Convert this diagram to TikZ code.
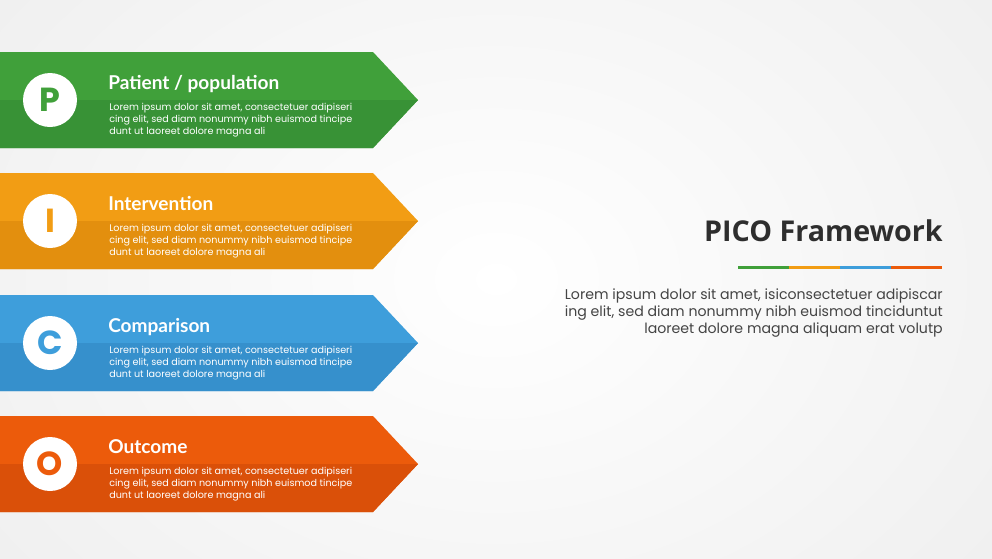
\documentclass[tikz,border=0pt]{standalone}
\usepackage{fontspec}
\setmainfont{Poppins}
\newfontfamily\headfont{Lato}
\newfontfamily\titlefont{Open Sans}
\newfontfamily\popfont{Poppins}
\usetikzlibrary{shadings}
\definecolor{gU}{HTML}{40A03A}
\definecolor{gL}{HTML}{389236}
\definecolor{oU}{HTML}{F29D14}
\definecolor{oL}{HTML}{E38F0E}
\definecolor{bU}{HTML}{3E9EDB}
\definecolor{bL}{HTML}{3690CC}
\definecolor{rU}{HTML}{EC5B0B}
\definecolor{rL}{HTML}{DA5009}
\definecolor{bgO}{HTML}{EEEEEE}
\definecolor{txt}{HTML}{2E2E2E}
\definecolor{body}{HTML}{444444}
\tikzset{
  lettercirc/.style={circle,fill=white,minimum size=40.5pt,inner sep=0pt,font=\popfont\bfseries\fontsize{25}{25}\selectfont},
  headtxt/.style={anchor=base west,text=white,inner sep=0pt,font=\headfont\bfseries\fontsize{14.3}{16}\selectfont},
  bodytxt/.style={anchor=north west,text=white,inner sep=0pt,align=left,font=\popfont\fontsize{7.2}{9}\selectfont},
}
\begin{document}
\begin{tikzpicture}[x=0.75pt,y=-0.75pt]
\useasboundingbox (0,0) rectangle (992,558);
\shade[inner color=white,outer color=bgO] (-200,-250) rectangle (1192,808);
% bands
\foreach \t/\cu/\cl in {52/gU/gL,173/oU/oL,295/bU/bL,416/rU/rL}{
  \pgfmathsetmacro{\m}{\t+48}
  \pgfmathsetmacro{\b}{\t+96}
  \fill[\cu] (0,\t) -- (373,\t) -- (418,\m) -- (373,\b) -- (0,\b) -- cycle;
  \fill[\cl] (0,\m) -- (418,\m) -- (373,\b) -- (0,\b) -- cycle;
}
\node[lettercirc,text=gU] (cP) at (50,100) {P};
\node[lettercirc,text=oU] (cI) at (50,221) {I};
\node[lettercirc,text=bU] (cC) at (50,343) {C};
\node[lettercirc,text=rU] (cO) at (50,464) {O};
\node[headtxt] (hP) at (108,89) {Patient / population};
\node[headtxt] (hI) at (108,210) {Intervention};
\node[headtxt] (hC) at (108,332) {Comparison};
\node[headtxt] (hO) at (108,453) {Outcome};
\foreach \n/\y in {P/103,I/224,C/346,O/467}{
  \node[bodytxt] (t\n) at (109,\y) {Lorem ipsum dolor sit amet, consectetuer adipiseri\\cing elit, sed diam nonummy nibh euismod tincipe\\dunt ut laoreet dolore magna ali};
}
\node[anchor=base east,inner sep=0pt,text=txt,font=\titlefont\bfseries\fontsize{21.5}{23}\selectfont] (title) at (943,241) {PICO Framework};
\fill[gU] (738,265.5) rectangle (789,268.5);
\fill[oU] (789,265.5) rectangle (840,268.5);
\fill[bU] (840,265.5) rectangle (891,268.5);
\fill[rU] (891,265.5) rectangle (942,268.5);
\node[anchor=north east,inner sep=0pt,align=right,text=body,font=\popfont\fontsize{10.6}{12.75}\selectfont] (desc) at (943,288) {Lorem ipsum dolor sit amet, isiconsectetuer adipiscar\\ing elit, sed diam nonummy nibh euismod tinciduntut\\laoreet dolore magna aliquam erat volutp};
\end{tikzpicture}
\end{document}
